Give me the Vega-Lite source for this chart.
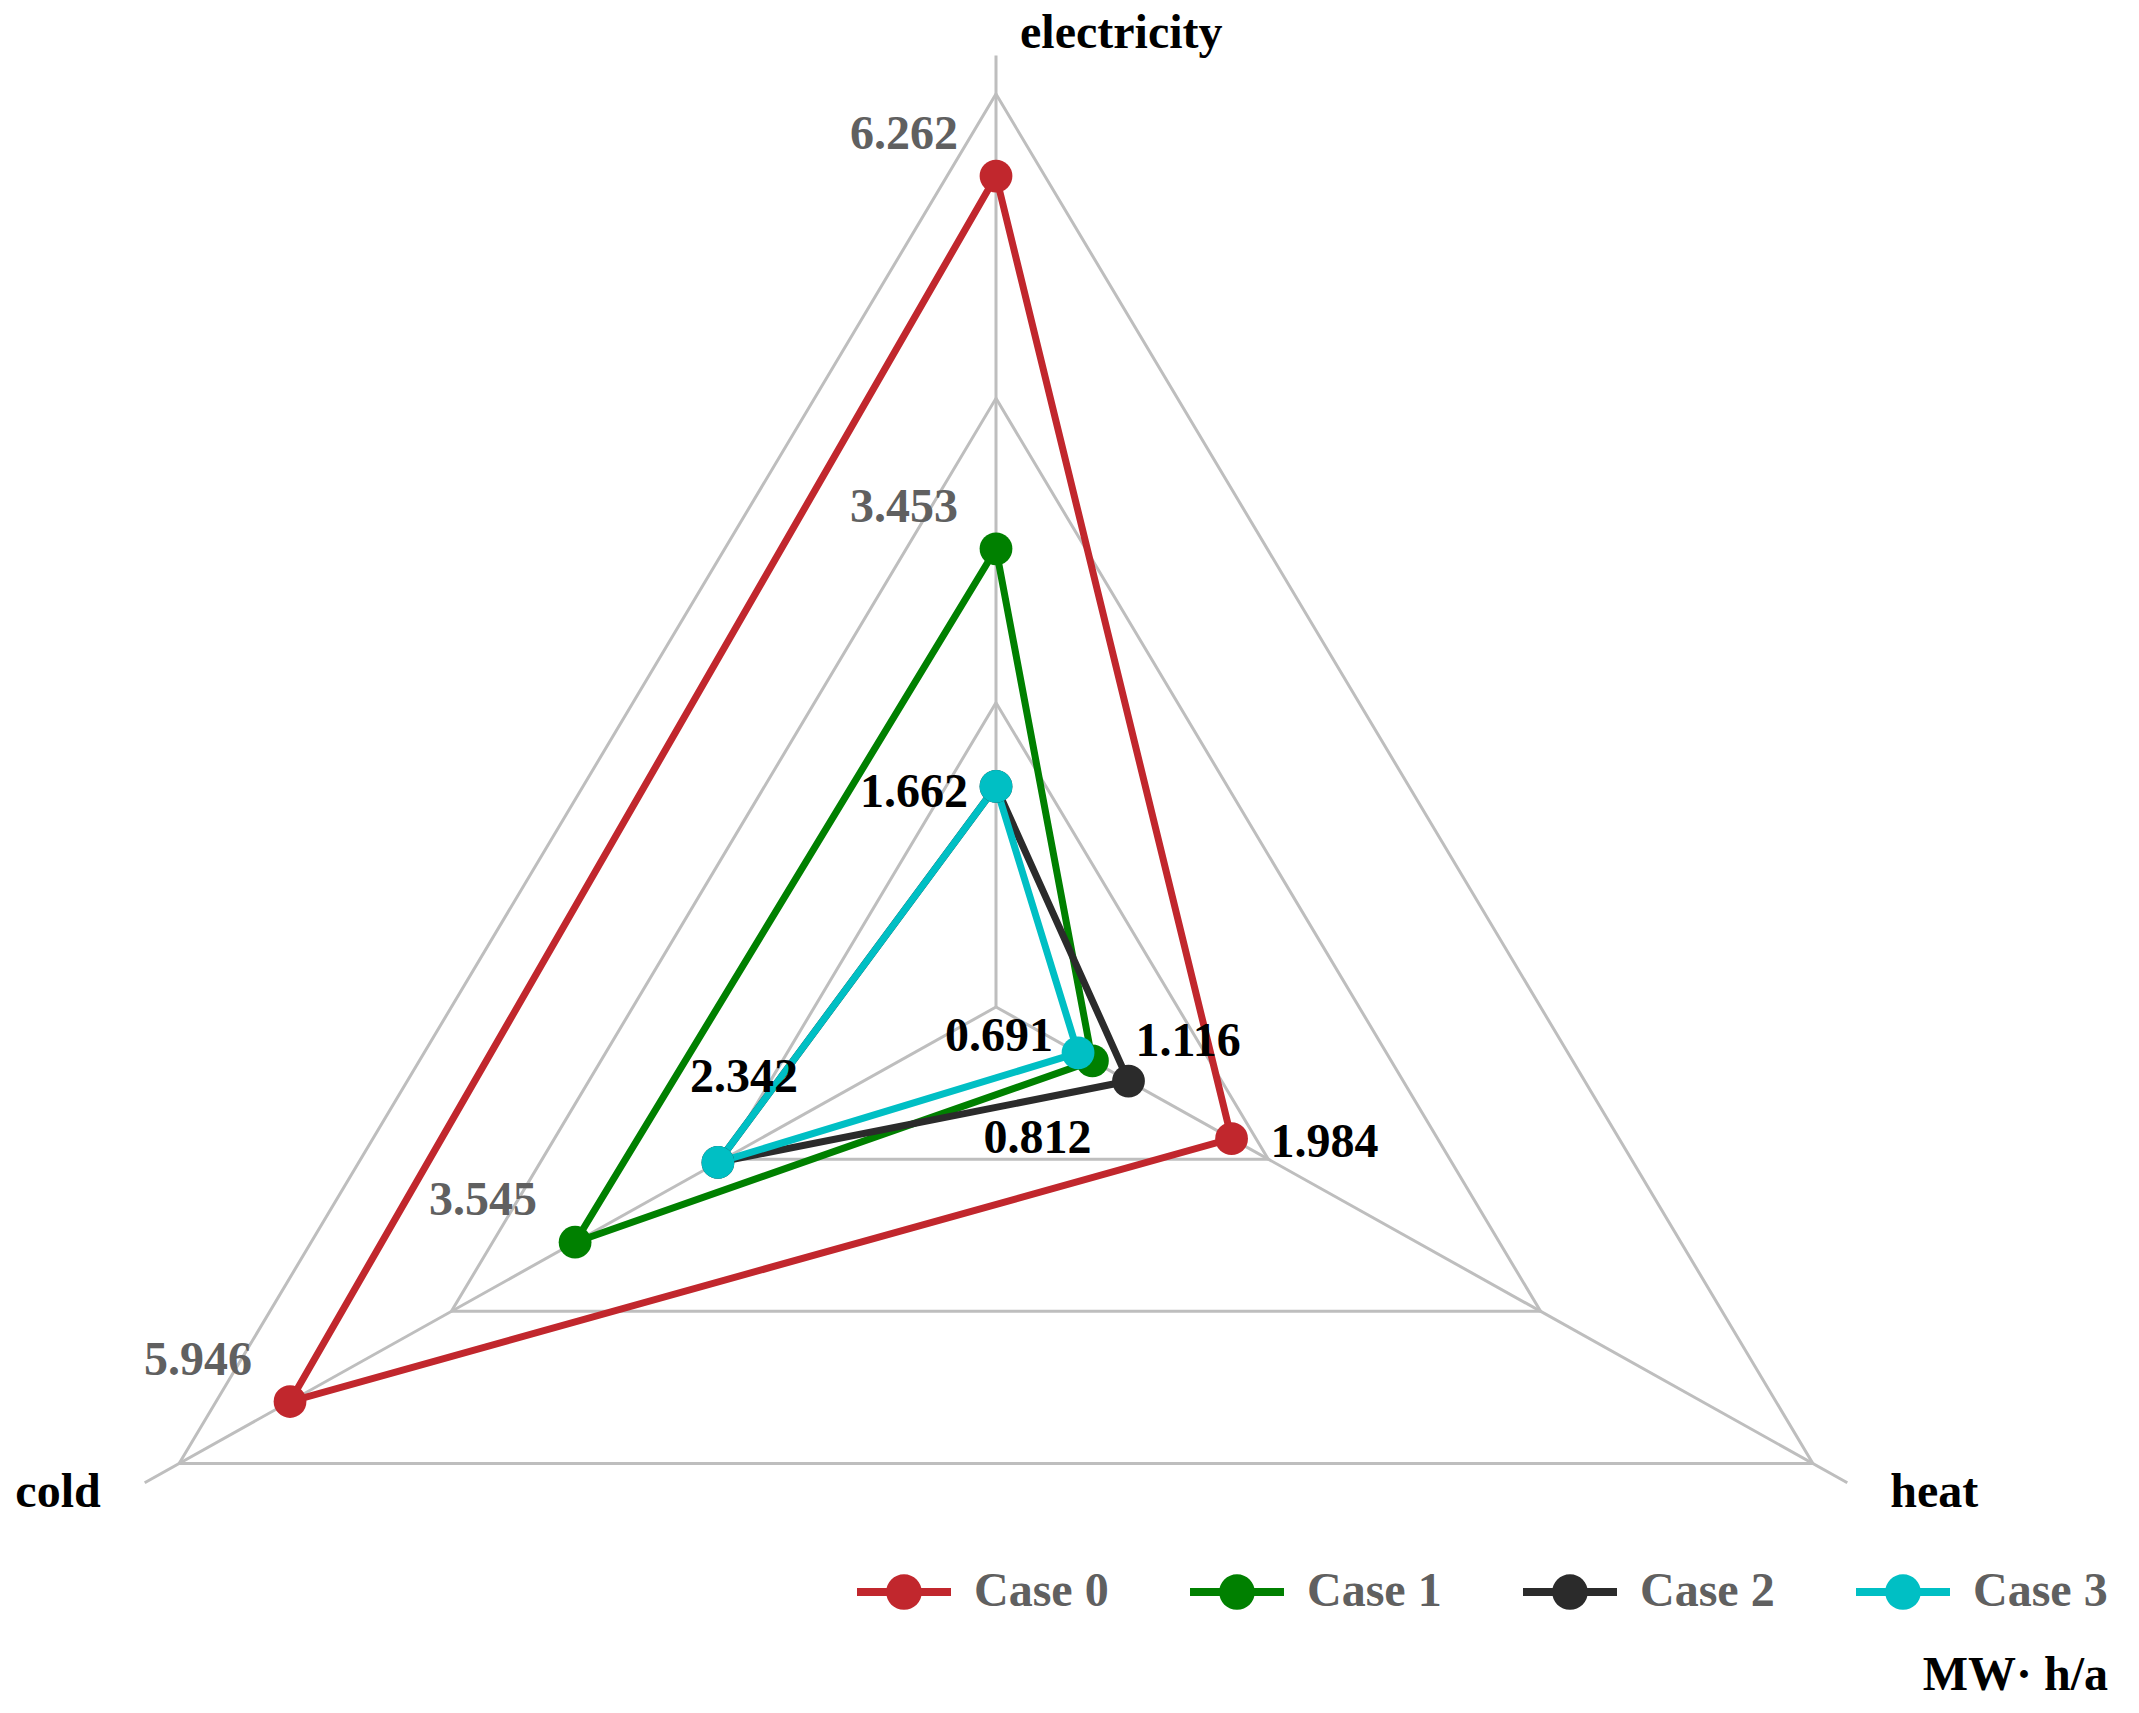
{
  "$schema": "https://vega.github.io/schema/vega-lite/v6.json",
  "width": 2139,
  "height": 1713,
  "autosize": {"type": "none"},
  "padding": 0,
  "background": "white",
  "config": {"view": {"stroke": null}, "font": "Liberation Serif"},
  "datasets": {
    "cases": [
      {"case": "Case 0", "axis": "electricity", "value": 6.262},
      {"case": "Case 0", "axis": "heat", "value": 1.984},
      {"case": "Case 0", "axis": "cold", "value": 5.946},
      {"case": "Case 1", "axis": "electricity", "value": 3.453},
      {"case": "Case 1", "axis": "heat", "value": 0.812},
      {"case": "Case 1", "axis": "cold", "value": 3.545},
      {"case": "Case 2", "axis": "electricity", "value": 1.662},
      {"case": "Case 2", "axis": "heat", "value": 1.116},
      {"case": "Case 2", "axis": "cold", "value": 2.342},
      {"case": "Case 3", "axis": "electricity", "value": 1.662},
      {"case": "Case 3", "axis": "heat", "value": 0.691},
      {"case": "Case 3", "axis": "cold", "value": 2.342}
    ],
    "grid": [
      {"level": 1, "axis": "electricity", "value": 2.2933},
      {"level": 1, "axis": "heat", "value": 2.2933},
      {"level": 1, "axis": "cold", "value": 2.2933},
      {"level": 2, "axis": "electricity", "value": 4.5867},
      {"level": 2, "axis": "heat", "value": 4.5867},
      {"level": 2, "axis": "cold", "value": 4.5867},
      {"level": 3, "axis": "electricity", "value": 6.88},
      {"level": 3, "axis": "heat", "value": 6.88},
      {"level": 3, "axis": "cold", "value": 6.88}
    ],
    "spokes": [
      {"axis": "electricity", "value": 7.17},
      {"axis": "heat", "value": 7.17},
      {"axis": "cold", "value": 7.17}
    ]
  },
  "encoding": {
    "x": {"field": "x", "type": "quantitative", "scale": {"domain": [-7.2648, 8.337], "nice": false, "zero": false}, "axis": null},
    "y": {"field": "y", "type": "quantitative", "scale": {"domain": [-5.3202, 7.5886], "nice": false, "zero": false}, "axis": null}
  },
  "layer": [
    {
      "data": {"name": "grid"},
      "transform": [
        {"calculate": "datum.axis == 'electricity' ? 0 : datum.axis == 'heat' ? 2 * PI / 3 : 4 * PI / 3", "as": "angle"},
        {"calculate": "datum.value * sin(datum.angle)", "as": "x"},
        {"calculate": "datum.value * cos(datum.angle)", "as": "y"}
      ],
      "mark": {"type": "line", "interpolate": "linear-closed", "stroke": "#bebebe", "strokeWidth": 3},
      "encoding": {"detail": {"field": "level"}, "order": {"field": "angle"}}
    },
    {
      "data": {"name": "spokes"},
      "transform": [
        {"calculate": "datum.axis == 'electricity' ? 0 : datum.axis == 'heat' ? 2 * PI / 3 : 4 * PI / 3", "as": "angle"},
        {"calculate": "datum.value * sin(datum.angle)", "as": "x"},
        {"calculate": "datum.value * cos(datum.angle)", "as": "y"}
      ],
      "mark": {"type": "rule", "stroke": "#bebebe", "strokeWidth": 3},
      "encoding": {"x2": {"datum": 0}, "y2": {"datum": 0}}
    },
    {
      "data": {"name": "spokes"},
      "transform": [
        {"filter": "datum.axis == 'electricity'"},
        {"calculate": "0", "as": "x"},
        {"calculate": "datum.value", "as": "y"}
      ],
      "mark": {"type": "text", "align": "left", "baseline": "alphabetic", "dx": 24, "dy": -8, "fontSize": 48, "fontWeight": "bold", "color": "black"},
      "encoding": {"text": {"field": "axis"}}
    },
    {
      "data": {"name": "spokes"},
      "transform": [
        {"filter": "datum.axis == 'heat'"},
        {"calculate": "datum.value * sin(2 * PI / 3)", "as": "x"},
        {"calculate": "datum.value * cos(2 * PI / 3)", "as": "y"}
      ],
      "mark": {"type": "text", "align": "left", "baseline": "alphabetic", "dx": 43, "dy": 24, "fontSize": 48, "fontWeight": "bold", "color": "black"},
      "encoding": {"text": {"field": "axis"}}
    },
    {
      "data": {"name": "spokes"},
      "transform": [
        {"filter": "datum.axis == 'cold'"},
        {"calculate": "datum.value * sin(4 * PI / 3)", "as": "x"},
        {"calculate": "datum.value * cos(4 * PI / 3)", "as": "y"}
      ],
      "mark": {"type": "text", "align": "right", "baseline": "alphabetic", "dx": -44, "dy": 24, "fontSize": 48, "fontWeight": "bold", "color": "black"},
      "encoding": {"text": {"field": "axis"}}
    },
    {
      "data": {"name": "cases"},
      "transform": [
        {"calculate": "datum.axis == 'electricity' ? 0 : datum.axis == 'heat' ? 2 * PI / 3 : 4 * PI / 3", "as": "angle"},
        {"calculate": "datum.value * sin(datum.angle)", "as": "x"},
        {"calculate": "datum.value * cos(datum.angle)", "as": "y"}
      ],
      "resolve": {"legend": {"color": "independent"}},
      "layer": [
        {
          "mark": {"type": "line", "interpolate": "linear-closed", "strokeWidth": 7},
          "encoding": {
            "color": {"field": "case", "type": "nominal", "scale": {"domain": ["Case 0", "Case 1", "Case 2", "Case 3"], "range": ["#C1272D", "#008000", "#2B2B2B", "#00BFC4"]}, "legend": null},
            "order": {"field": "angle"}
          }
        },
        {
          "mark": {"type": "circle", "size": 1075, "opacity": 1},
          "encoding": {
            "color": {
              "field": "case", "type": "nominal",
              "scale": {"domain": ["Case 0", "Case 1", "Case 2", "Case 3"], "range": ["#C1272D", "#008000", "#2B2B2B", "#00BFC4"]},
              "legend": {
                "orient": "none", "legendX": 857, "legendY": 1545, "direction": "horizontal",
                "title": "MW· h/a", "titleOrient": "bottom", "titleAnchor": "end", "titleFont": "Liberation Serif", "titleFontSize": 48, "titleFontWeight": "bold", "titleColor": "black", "titlePadding": 36, "titleBaseline": "top", "titleLimit": 800,
                "symbolType": "M-1,-0.085L1,-0.085L1,0.085L-1,0.085Z M-0.38,0A0.38,0.38 0 1,1 0.38,0A0.38,0.38 0 1,1 -0.38,0Z",
                "symbolSize": 8836, "symbolStrokeWidth": 0, "symbolOpacity": 1,
                "labelFont": "Liberation Serif", "labelFontSize": 48, "labelFontWeight": "bold", "labelColor": "#606060", "labelOffset": 23, "labelLimit": 400,
                "columnPadding": 81, "padding": 0
              }
            }
          }
        },
        {
          "transform": [{"filter": "(datum.case == 'Case 0' || datum.case == 'Case 1') && datum.axis != 'heat'"}],
          "mark": {"type": "text", "align": "right", "baseline": "alphabetic", "dx": -38, "dy": -27, "fontSize": 48, "fontWeight": "bold", "color": "#606060"},
          "encoding": {"text": {"field": "value", "type": "quantitative", "format": ".3f"}}
        },
        {
          "transform": [{"filter": "datum.case == 'Case 3' && datum.axis == 'electricity'"}],
          "mark": {"type": "text", "align": "right", "baseline": "alphabetic", "dx": -28, "dy": 21, "fontSize": 48, "fontWeight": "bold", "color": "black"},
          "encoding": {"text": {"field": "value", "type": "quantitative", "format": ".3f"}}
        },
        {
          "transform": [{"filter": "datum.case == 'Case 3' && datum.axis == 'cold'"}],
          "mark": {"type": "text", "align": "center", "baseline": "alphabetic", "dx": 26, "dy": -70, "fontSize": 48, "fontWeight": "bold", "color": "black"},
          "encoding": {"text": {"field": "value", "type": "quantitative", "format": ".3f"}}
        },
        {
          "transform": [{"filter": "datum.case == 'Case 3' && datum.axis == 'heat'"}],
          "mark": {"type": "text", "align": "right", "baseline": "alphabetic", "dx": -25, "dy": -2, "fontSize": 48, "fontWeight": "bold", "color": "black"},
          "encoding": {"text": {"field": "value", "type": "quantitative", "format": ".3f"}}
        },
        {
          "transform": [{"filter": "datum.case == 'Case 1' && datum.axis == 'heat'"}],
          "mark": {"type": "text", "align": "right", "baseline": "alphabetic", "dx": -1, "dy": 92, "fontSize": 48, "fontWeight": "bold", "color": "black"},
          "encoding": {"text": {"field": "value", "type": "quantitative", "format": ".3f"}}
        },
        {
          "transform": [{"filter": "datum.case == 'Case 2' && datum.axis == 'heat'"}],
          "mark": {"type": "text", "align": "left", "baseline": "alphabetic", "dx": 7, "dy": -25, "fontSize": 48, "fontWeight": "bold", "color": "black"},
          "encoding": {"text": {"field": "value", "type": "quantitative", "format": ".3f"}}
        },
        {
          "transform": [{"filter": "datum.case == 'Case 0' && datum.axis == 'heat'"}],
          "mark": {"type": "text", "align": "left", "baseline": "alphabetic", "dx": 39, "dy": 18, "fontSize": 48, "fontWeight": "bold", "color": "black"},
          "encoding": {"text": {"field": "value", "type": "quantitative", "format": ".3f"}}
        }
      ]
    }
  ]
}
